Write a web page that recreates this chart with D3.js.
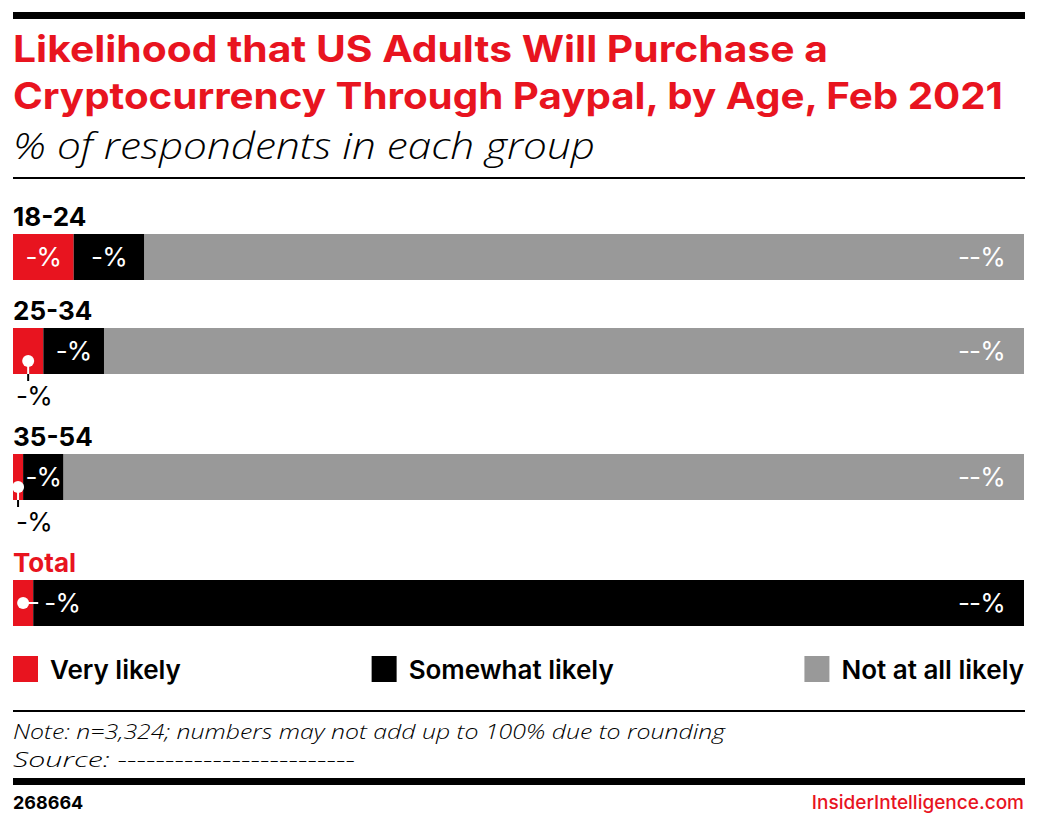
<!DOCTYPE html>
<html>
<head>
<meta charset="utf-8">
<script src="https://cdn.jsdelivr.net/npm/d3@7"></script>
<style>
  body { margin: 0; background: #fff; }
  svg { display: block; font-family: Inter, Roboto, "Noto Sans", sans-serif; }
  .it { font-family: "Open Sans", Lato, sans-serif; font-style: italic; font-weight: 300; }
</style>
</head>
<body>
<div id="chart"></div>
<script>
// data
var categories = ["18-24", "25-34", "35-54", "Total"];
var seriesNames = ["Very likely", "Somewhat likely", "Not at all likely"];
var veryLikely = [6, 3, 1, 2];
var somewhatLikely = [7, 6, 4, 98];
var notAtAllLikely = [87, 91, 95, 0];

var colors = ["#e8141f", "#000000", "#999999"],
	red = "#e8141f";

var width = 1038,
	height = 827,
	left = 13,
	right = 1024;

var svg = d3.select("#chart").append("svg")
	.attr("width", width)
	.attr("height", height);

// text that is stretched to the width it has in the original layout
function wideText(str, y, size, len) {
	return svg.append("text").attr("x", left).attr("y", y)
		.attr("font-size", size)
		.attr("textLength", len)
		.attr("lengthAdjust", "spacingAndGlyphs")
		.text(str);
}

// header
svg.append("rect").attr("x", left).attr("y", 12).attr("width", right - left + 1).attr("height", 7).attr("fill", "#000");

wideText("Likelihood that US Adults Will Purchase a", 62, 37, 815)
	.attr("fill", red).attr("font-weight", 700);
wideText("Cryptocurrency Through Paypal, by Age, Feb 2021", 109, 37, 990)
	.attr("fill", red).attr("font-weight", 700);
wideText("% of respondents in each group", 159, 37, 582)
	.attr("class", "it").attr("fill", "#000");

svg.append("rect").attr("x", left).attr("y", 177).attr("width", right - left + 1).attr("height", 2).attr("fill", "#000");

// build rows
var rows = categories.map(function(c, i) {
	return {cat: c, "Very likely": veryLikely[i], "Somewhat likely": somewhatLikely[i], "Not at all likely": notAtAllLikely[i]};
});
var stacked = d3.stack().keys(seriesNames)(rows);

var x = d3.scaleLinear().domain([0, 100]).range([left, right]);

var barH = 46,
	minInside = 35;

function valLabel(v) {
	return d3.range(String(v).length).map(function() { return "-"; }).join("") + "%";
}

// does a row need room for a callout under the bar
function needsDown(i) {
	for (var s = 0; s < seriesNames.length; s++) {
		var d = stacked[s][i];
		var w = x(d[1]) - x(d[0]);
		if (d[1] - d[0] > 0 && w < minInside) {
			var nx = stacked[s + 1] ? x(stacked[s + 1][i][1]) - x(stacked[s + 1][i][0]) : 0;
			if (nx < 150) return true;
		}
	}
	return false;
}

var yTop = [],
	y0 = 234;
categories.forEach(function(c, i) {
	yTop.push(y0);
	y0 += 94 + (needsDown(i) ? 32 : 0);
});

// category labels
svg.selectAll("text.cat")
	.data(categories).enter()
	.append("text")
	.attr("class", "cat")
	.attr("x", left)
	.attr("y", function(d, i) { return yTop[i] - 8; })
	.attr("font-size", 26)
	.attr("font-weight", 700)
	.attr("fill", function(d) { return d == "Total" ? red : "#000"; })
	.text(function(d) { return d; });

// bars
var layer = svg.selectAll("g.layer")
	.data(stacked).enter()
	.append("g")
	.attr("class", "layer")
	.attr("fill", function(d, i) { return colors[i]; });

layer.selectAll("rect")
	.data(function(d) { return d; }).enter()
	.append("rect")
	.attr("x", function(d) { return x(d[0]); })
	.attr("y", function(d, i) { return yTop[i]; })
	.attr("width", function(d) { return x(d[1]) - x(d[0]); })
	.attr("height", barH);

// value labels
var vSize = 26;
function valText(xp, yp, lbl, anchor, fill) {
	return svg.append("text").attr("x", xp).attr("y", yp)
		.attr("text-anchor", anchor).attr("font-size", vSize).attr("fill", fill)
		.attr("letter-spacing", -0.8)
		.text(lbl);
}

stacked.forEach(function(series, s) {
	series.forEach(function(d, i) {
		var v = d[1] - d[0];
		if (v <= 0) return;
		var x0 = x(d[0]), x1 = x(d[1]), w = x1 - x0;
		var cy = yTop[i] + barH / 2;
		var isLast = d[1] >= 100;
		var lbl = valLabel(v);
		if (isLast && w > 150) {
			valText(x1 - 19, cy + 9, lbl, "end", "#fff");
		} else if (w >= minInside) {
			valText((x0 + x1) / 2, cy + 9, lbl, "middle", "#fff");
		} else {
			var px = (x0 + x1) / 2;
			var next = stacked[s + 1] ? stacked[s + 1][i] : null;
			var nextW = next ? x(next[1]) - x(next[0]) : 0;
			if (nextW >= 150) {
				// callout to the right, inside the next segment
				svg.append("line").attr("x1", px).attr("x2", x1 + 5).attr("y1", cy).attr("y2", cy)
					.attr("stroke", "#fff").attr("stroke-width", 2);
				svg.append("circle").attr("cx", px).attr("cy", cy).attr("r", 6).attr("fill", "#fff");
				valText(x1 + 11, cy + 9, lbl, "start", "#fff");
			} else {
				// callout below the bar
				var dotY = yTop[i] + barH - 13;
				svg.append("line").attr("x1", px).attr("x2", px).attr("y1", dotY).attr("y2", yTop[i] + barH)
					.attr("stroke", "#fff").attr("stroke-width", 2);
				svg.append("line").attr("x1", px).attr("x2", px).attr("y1", yTop[i] + barH).attr("y2", yTop[i] + barH + 7)
					.attr("stroke", "#000").attr("stroke-width", 2);
				svg.append("circle").attr("cx", px).attr("cy", dotY).attr("r", 6).attr("fill", "#fff");
				valText(left + 3, yTop[i] + barH + 31, lbl, "start", "#000");
			}
		}
	});
});

// legend, spread across the width
var legend = svg.append("g");
var items = legend.selectAll("g")
	.data(seriesNames).enter()
	.append("g");
items.append("rect")
	.attr("y", 656).attr("width", 25).attr("height", 26)
	.attr("fill", function(d, i) { return colors[i]; });
items.append("text")
	.attr("x", 37).attr("y", 679)
	.attr("font-size", 26).attr("font-weight", 600)
	.text(function(d) { return d; });

var widths = [];
items.each(function() { widths.push(this.getBBox().width); });
var gap = (right - left - d3.sum(widths)) / (widths.length - 1),
	pos = left;
items.attr("transform", function(d, i) {
	var t = "translate(" + pos + ",0)";
	pos += widths[i] + gap;
	return t;
});

// notes and footer
svg.append("rect").attr("x", left).attr("y", 710).attr("width", right - left + 1).attr("height", 2).attr("fill", "#000");
wideText("Note: n=3,324; numbers may not add up to 100% due to rounding", 739, 21, 712)
	.attr("class", "it");
wideText("Source: -------------------------", 767, 21, 342)
	.attr("class", "it");
svg.append("rect").attr("x", left).attr("y", 778).attr("width", right - left + 1).attr("height", 7).attr("fill", "#000");
svg.append("text").attr("x", left).attr("y", 809)
	.attr("font-size", 18).attr("font-weight", 700)
	.text("268664");
svg.append("text").attr("x", right).attr("y", 809)
	.attr("text-anchor", "end").attr("font-size", 19).attr("font-weight", 500).attr("fill", red)
	.text("InsiderIntelligence.com");
</script>
</body>
</html>
